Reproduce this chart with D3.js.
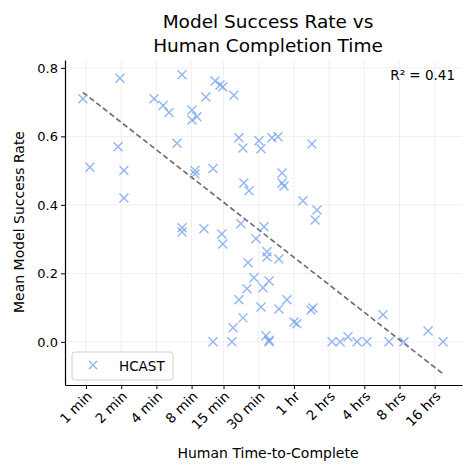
<!DOCTYPE html><html><head><meta charset="utf-8">
<script src="https://cdn.jsdelivr.net/npm/d3@7"></script>
<style>body{margin:0;background:#fff}text{font-family:"DejaVu Sans",sans-serif}</style></head><body>
<svg id="c" width="474" height="474"></svg>
<script>
const minutes=[0.94,1.08,1.95,1.88,2.11,2.11,3.82,4.56,5.13,6.0,6.63,6.63,6.63,10.6,8.06,8.06,8.89,12.7,14.0,14.8,18.4,20.3,22.0,30.1,31.4,38.9,43.8,85.6,8.55,8.55,12.2,22.4,24.8,47.5,47.5,49.4,71.6,94.5,91.1,10.2,14.5,14.8,21.1,33.3,28.4,35.3,35.3,44.7,24.3,27.3,36.8,23.8,32.6,20.3,52.3,31.4,44.7,87.4,83.9,22.0,18.1,60.1,63.6,34.6,36.8,12.2,17.7,36.8,127,149,208,252,390,524,1130,347,842,174];
const success=[0.71,0.51,0.77,0.57,0.50,0.42,0.71,0.69,0.67,0.58,0.78,0.333,0.321,0.715,0.677,0.648,0.657,0.762,0.75,0.745,0.72,0.596,0.566,0.587,0.564,0.596,0.599,0.578,0.50,0.49,0.506,0.464,0.441,0.493,0.464,0.455,0.412,0.385,0.356,0.33,0.315,0.286,0.345,0.336,0.301,0.263,0.248,0.242,0.231,0.187,0.178,0.155,0.158,0.123,0.123,0.102,0.096,0.099,0.093,0.07,0.041,0.058,0.053,0.018,0.005,0,0,0,0,0,0,0,0,0,0,0.079,0.032,0.015];
const tickMinutes=[1,2,4,8,15,30,60,120,240,480,960];
const tickLabels=["1 min","2 min","4 min","8 min","15 min","30 min","1 hr","2 hrs","4 hrs","8 hrs","16 hrs"];
const yTicks=[0,0.2,0.4,0.6,0.8];
const svg=d3.select("#c");
const L=65,R=462,T=60,B=385;
const x=d3.scaleLog().base(2).domain([Math.pow(2,-21/35.2),Math.pow(2,(462-86)/35.2)]).range([L,R]);
const y=d3.scaleLinear().domain([-0.126,0.823]).range([B,T]);
const g=svg.append("g");
tickMinutes.forEach(t=>g.append("line").attr("x1",x(t)).attr("x2",x(t)).attr("y1",T).attr("y2",B).attr("stroke","#ebebeb").attr("stroke-width",0.8));
yTicks.forEach(t=>g.append("line").attr("x1",L).attr("x2",R).attr("y1",y(t)).attr("y2",y(t)).attr("stroke","#ebebeb").attr("stroke-width",0.8));
const lx=minutes.map(m=>Math.log2(m));
const mx=d3.mean(lx),my=d3.mean(success);
let sxy=0,sxx=0;lx.forEach((v,i)=>{sxy+=(v-mx)*(success[i]-my);sxx+=(v-mx)**2});
const b=sxy/sxx,a=my-b*mx;
const x0=d3.min(minutes),x1=d3.max(minutes);
g.append("line").attr("x1",x(x0)).attr("y1",y(a+b*Math.log2(x0))).attr("x2",x(x1)).attr("y2",y(a+b*Math.log2(x1)))
 .attr("stroke","#707070").attr("stroke-width",1.7).attr("stroke-dasharray","5.5,3");
const s=4.5;
g.selectAll(".p").data(minutes.map((m,i)=>[m,success[i]])).enter().append("path")
 .attr("d",d=>{const px=x(d[0]),py=y(d[1]);return `M${px-s},${py-s}L${px+s},${py+s}M${px-s},${py+s}L${px+s},${py-s}`})
 .attr("stroke","#6d9eeb").attr("stroke-opacity",0.75).attr("stroke-width",1.4).attr("fill","none");
const xa=svg.append("g").attr("transform",`translate(0,${B})`).call(d3.axisBottom(x).tickValues(tickMinutes).tickFormat((d,i)=>tickLabels[i]).tickSize(4).tickSizeOuter(0));
xa.selectAll("text").attr("transform","rotate(-45)").attr("text-anchor","end").attr("dx","-0.3em").attr("dy","0.45em").attr("font-size",13.5).attr("fill","#000");
const ya=svg.append("g").attr("transform",`translate(${L},0)`).call(d3.axisLeft(y).tickValues(yTicks).tickFormat(d3.format(".1f")).tickSize(4).tickSizeOuter(0));
ya.selectAll("text").attr("font-size",13).attr("fill","#000");
[xa,ya].forEach(a=>{a.select(".domain").attr("stroke","#000").attr("stroke-width",1.2);a.selectAll(".tick line").attr("stroke","#000")});
svg.append("text").attr("x",268).attr("y",28).attr("text-anchor","middle").attr("font-size",18.5).text("Model Success Rate vs");
svg.append("text").attr("x",268).attr("y",52).attr("text-anchor","middle").attr("font-size",18.5).text("Human Completion Time");
svg.append("text").attr("x",268).attr("y",458).attr("text-anchor","middle").attr("font-size",14).text("Human Time-to-Complete");
svg.append("text").attr("transform","translate(24,222) rotate(-90)").attr("text-anchor","middle").attr("font-size",14).text("Mean Model Success Rate");
svg.append("text").attr("x",455).attr("y",80).attr("text-anchor","end").attr("font-size",13.5).text("R² = 0.41");
const lg=svg.append("g");
lg.append("rect").attr("x",72).attr("y",352).attr("width",101).attr("height",28).attr("rx",3).attr("fill","#fff").attr("stroke","#d0d0d0");
lg.append("path").attr("d","M89,361L97,369M89,369L97,361").attr("stroke","#6d9eeb").attr("stroke-opacity",0.75).attr("stroke-width",1.4);
lg.append("text").attr("x",119).attr("y",371).attr("font-size",13.5).text("HCAST");
</script></body></html>
